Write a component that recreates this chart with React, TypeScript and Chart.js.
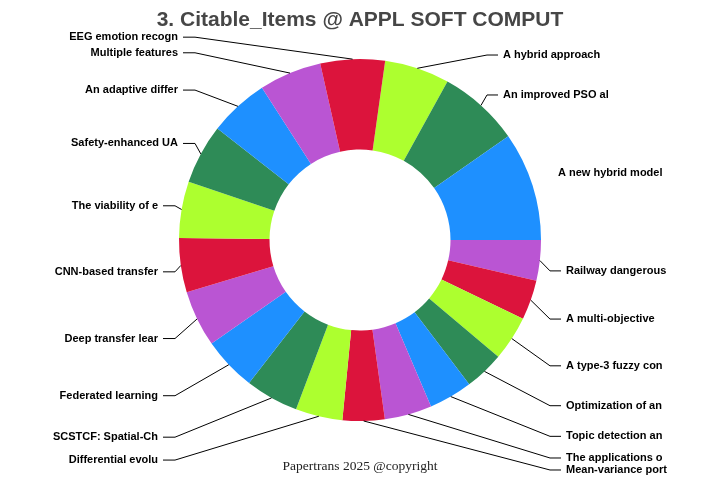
import { useEffect, useRef } from "react";
import { Chart, registerables } from "chart.js";

Chart.register(...registerables);

const TITLE = "3. Citable_Items @ APPL SOFT COMPUT";
const FOOTER = "Papertrans 2025 @copyright";

const labels = [
  "A hybrid approach",
  "An improved PSO al",
  "A new hybrid model",
  "Railway dangerous",
  "A multi-objective",
  "A type-3 fuzzy con",
  "Optimization of an",
  "Topic detection an",
  "The applications o",
  "Mean-variance port",
  "Differential evolu",
  "SCSTCF: Spatial-Ch",
  "Federated learning",
  "Deep transfer lear",
  "CNN-based transfer",
  "The viability of e",
  "Safety-enhanced UA",
  "An adaptive differ",
  "Multiple features",
  "EEG emotion recogn",
];

// slice sizes (share of the ring)
const values = [
  20.9, 26.1, 35.0, 13.0, 12.8, 14.4, 12.7, 14.0, 15.2, 13.5,
  15.1, 17.1, 17.3, 18.1, 17.4, 18.2, 19.2, 19.2, 20.1, 20.7,
];

const palette = ["#ADFF2F", "#2E8B57", "#1E90FF", "#BA55D3", "#DC143C"];

// labels drawn without a leader line
const noLine = ["A new hybrid model"];

const LABEL_FONT = "bold 11px 'Liberation Sans', Arial, sans-serif";

const outerLabels = {
  id: "outerLabels",
  afterDraw(chart: Chart) {
    const ctx = chart.ctx;
    const meta = chart.getDatasetMeta(0);
    const names = chart.data.labels as string[];

    type Item = {
      name: string;
      px: number;
      py: number;
      y: number;
      right: boolean;
    };
    const items: Item[] = [];
    let cx = 360;
    let cy = 240;

    meta.data.forEach((el: any, i: number) => {
      const { x, y, startAngle, endAngle, outerRadius } = el.getProps(
        ["x", "y", "startAngle", "endAngle", "outerRadius"],
        true,
      );
      cx = x;
      cy = y;
      const mid = (startAngle + endAngle) / 2;
      const s = Math.sin(mid);
      const right = Math.cos(mid) >= 0;
      let ly: number;
      if (s < 0) ly = y + (right ? 195 : 203) * s;
      else ly = right ? y + 6 + 220 * s : y + 226 * s;
      items.push({
        name: names[i],
        px: x + outerRadius * Math.cos(mid),
        py: y + outerRadius * s,
        y: ly,
        right,
      });
    });

    // keep labels on each side from overlapping
    [true, false].forEach((side) => {
      const list = items.filter((d) => d.right === side).sort((a, b) => a.y - b.y);
      for (let i = 1; i < list.length; i++) {
        if (list[i].y < list[i - 1].y + 12) list[i].y = list[i - 1].y + 12;
      }
    });

    ctx.save();
    ctx.font = LABEL_FONT;
    ctx.fillStyle = "#000";
    ctx.strokeStyle = "#000";
    ctx.lineWidth = 1;
    ctx.textBaseline = "middle";

    items.forEach((d) => {
      if (noLine.includes(d.name)) {
        ctx.textAlign = "left";
        ctx.fillText(d.name, cx + 198, d.y - 8);
        return;
      }
      const upper = d.y < 180;
      let elbow: number;
      let end: number;
      if (d.right) {
        elbow = cx + (upper ? 127 : 190);
        end = elbow + 11;
      } else {
        elbow = cx - (upper ? 165 : 185);
        end = elbow - 12;
      }
      ctx.beginPath();
      ctx.moveTo(d.px, d.py);
      ctx.lineTo(elbow, d.y);
      ctx.lineTo(end, d.y);
      ctx.stroke();
      ctx.textAlign = d.right ? "left" : "right";
      ctx.fillText(d.name, d.right ? end + 5 : end - 5, d.y);
    });

    ctx.textAlign = "center";
    ctx.textBaseline = "alphabetic";
    ctx.fillStyle = "#464646";
    ctx.font = "bold 21px 'Liberation Sans', Arial, sans-serif";
    ctx.fillText(TITLE, 360, 26);

    ctx.fillStyle = "#222";
    ctx.font = "13.5px 'Liberation Serif', 'Times New Roman', serif";
    ctx.fillText(FOOTER, 360, 470);
    ctx.restore();
  },
};

export default function App() {
  const canvasRef = useRef<HTMLCanvasElement>(null);

  useEffect(() => {
    if (!canvasRef.current) return;
    const chart = new Chart(canvasRef.current, {
      type: "doughnut",
      data: {
        labels,
        datasets: [
          {
            data: values,
            backgroundColor: labels.map((_, i) => palette[i % palette.length]),
            borderWidth: 0,
            hoverOffset: 0,
            offset: 0,
          },
        ],
      },
      options: {
        responsive: false,
        animation: false,
        cutout: "50%",
        rotation: 8,
        layout: { padding: { top: 59, bottom: 59, left: 179, right: 179 } },
        plugins: {
          legend: { display: false },
          title: { display: false },
          tooltip: { enabled: false },
        },
        events: [],
      },
      plugins: [outerLabels],
    });
    return () => chart.destroy();
  }, []);

  return (
    <div style={{ position: "absolute", left: 0, top: 0, width: 720, height: 480, background: "#fff" }}>
      <canvas ref={canvasRef} width={720} height={480} style={{ display: "block" }} />
    </div>
  );
}
